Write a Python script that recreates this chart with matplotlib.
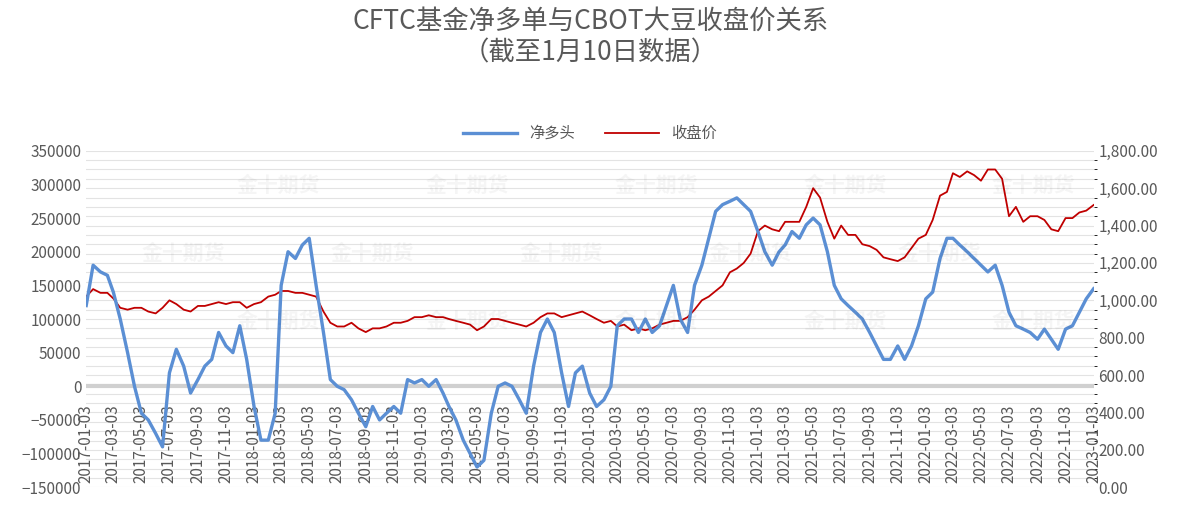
import matplotlib
matplotlib.use("Agg")
import matplotlib.pyplot as plt
import pandas as pd
import numpy as np

plt.rcParams["font.family"] = ["Noto Sans CJK SC", "DejaVu Sans"]

net_long = [120000,180000, 170000,165000, 140000,100000, 50000,0, -40000,-50000, -70000,-90000,
            20000,55000, 30000,-10000, 10000,30000, 40000,80000, 60000,50000, 90000,40000,
            -30000,-80000, -80000,-40000, 150000,200000, 190000,210000, 220000,150000, 80000,10000,
            0,-5000, -20000,-40000, -60000,-30000, -50000,-40000, -30000,-40000, 10000,5000,
            10000,0, 10000,-10000, -30000,-50000, -80000,-100000, -120000,-110000, -40000,0,
            5000,0, -20000,-40000, 30000,80000, 100000,80000, 20000,-30000, 20000,30000,
            -10000,-30000, -20000,0, 90000,100000, 100000,80000, 100000,80000, 90000,120000,
            150000,100000, 80000,150000, 180000,220000, 260000,270000, 275000,280000, 270000,260000,
            230000,200000, 180000,200000, 210000,230000, 220000,240000, 250000,240000, 200000,150000,
            130000,120000, 110000,100000, 80000,60000, 40000,40000, 60000,40000, 60000,90000,
            130000,140000, 190000,220000, 220000,210000, 200000,190000, 180000,170000, 180000,150000,
            110000,90000, 85000,80000, 70000,85000, 70000,55000, 85000,90000, 110000,130000,
            145000]
price = [1020,1060, 1040,1040, 1010,960, 950,960, 960,940, 930,960, 1000,980, 950,940, 970,970, 980,990, 980,990, 990,960,
         980,990, 1020,1030, 1050,1050, 1040,1040, 1030,1020, 940,880, 860,860, 880,850, 830,850, 850,860, 880,880, 890,910,
         910,920, 910,910, 900,890, 880,870, 840,860, 900,900, 890,880, 870,860, 880,910, 930,930, 910,920, 930,940,
         920,900, 880,890, 860,870, 840,850, 840,850, 870,880, 890,890, 910,950, 1000,1020, 1050,1080, 1150,1170, 1200,1250,
         1370,1400, 1380,1370, 1420,1420, 1420,1500, 1600,1550, 1420,1330, 1400,1350, 1350,1300, 1290,1270, 1230,1220, 1210,1230, 1280,1330,
         1350,1430, 1560,1580, 1680,1660, 1690,1670, 1640,1700, 1700,1650, 1450,1500, 1420,1450, 1450,1430, 1380,1370, 1440,1440, 1470,1480,
         1510]

dates = []
for m in pd.date_range("2017-01-01", "2022-12-01", freq="MS"):
    dates += [m + pd.Timedelta(days=2), m + pd.Timedelta(days=17)]
dates.append(pd.Timestamp("2023-01-03"))

fig = plt.figure(figsize=(11.81, 5.2), dpi=100)
ax = fig.add_axes([0.073, 0.063, 0.853, 0.647])
ax2 = ax.twinx()

ax.plot(dates, net_long, color="#5b8fd4", lw=2.4, label="净多头", zorder=3)
ax2.plot(dates, price, color="#c00000", lw=1.3, label="收盘价", zorder=2)

ax.set_ylim(-150000, 350000)
ax.set_yticks(np.arange(-150000, 350001, 50000))
ax2.set_ylim(0, 1800)
ax2.set_yticks(np.arange(0, 1801, 200))
ax2.set_yticklabels([f"{v:,.2f}" for v in np.arange(0, 1801, 200)])
ax2.set_yticks(np.arange(0, 1801, 50), minor=True)
ax2.grid(True, which="both", axis="y", color="#e3e3e3", lw=0.8)
ax.set_zorder(ax2.get_zorder() + 1); ax.patch.set_visible(False)
ax.axhline(0, color="#d0d0d0", lw=3, zorder=1)

ax.set_xlim(pd.Timestamp("2017-01-03"), pd.Timestamp("2023-01-03"))
ticks = [pd.Timestamp(f"{y}-{m:02d}-03") for y in range(2017, 2023) for m in range(1, 13, 2)] + [pd.Timestamp("2023-01-03")]
ax.set_xticks(ticks)
ax.set_xticklabels([t.strftime("%Y-%m-%d") for t in ticks], rotation=90, va="bottom")
for a in (ax, ax2):
    for s in a.spines.values():
        s.set_visible(False)
    a.tick_params(length=0, colors="#595959", labelsize=11)
ax.tick_params(axis="x", pad=-3)

fig.suptitle("CFTC基金净多单与CBOT大豆收盘价关系\n（截至1月10日数据）", y=0.985, fontsize=19, color="#595959", linespacing=1.2)
h1, l1 = ax.get_legend_handles_labels(); h2, l2 = ax2.get_legend_handles_labels()
ax.legend(h1 + h2, l1 + l2, loc="lower center", bbox_to_anchor=(0.5, 0.985), ncol=2, frameon=False,
          fontsize=11, labelcolor="#595959", handlelength=3.5)

for yy in [0.63, 0.5, 0.37]:
    for xx in np.arange(0.12, 0.85, 0.16):
        off = 0.08 if int(yy * 100) % 2 else 0
        fig.text(xx + off, yy, "金十期货", fontsize=15, color="#000000", alpha=0.04, fontweight="bold")
fig.savefig("out.png", dpi=100)
